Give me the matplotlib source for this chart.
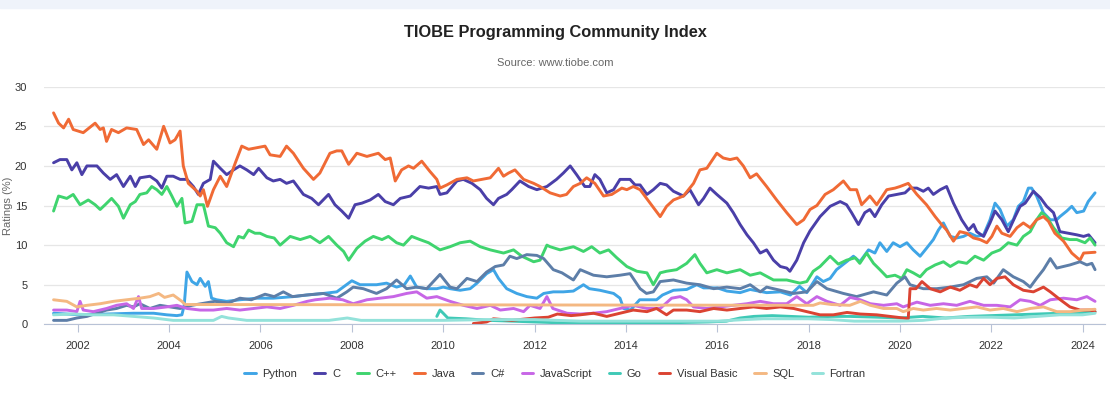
import matplotlib
matplotlib.use("Agg")
import matplotlib.pyplot as plt
from matplotlib.patches import Rectangle

plt.rcParams['font.family'] = ['Liberation Sans', 'DejaVu Sans']

# values (year, rating %)
python_x = [2001.47, 2001.76, 2002.05, 2002.63, 2003.22, 2003.66, 2003.95, 2004.17, 2004.28, 2004.33, 2004.39, 2004.50,
            2004.61, 2004.68, 2004.79, 2004.86, 2004.93, 2005.04, 2005.26, 2005.55, 2005.92, 2006.28, 2006.72, 2007.02,
            2007.38, 2007.67, 2008.00, 2008.18, 2008.54, 2008.76, 2008.98, 2009.15, 2009.28, 2009.42, 2009.64, 2009.86,
            2010.00, 2010.15, 2010.37, 2010.59, 2010.74, 2010.95, 2011.10, 2011.21, 2011.39, 2011.61, 2011.83, 2012.05,
            2012.20, 2012.41, 2012.63, 2012.85, 2013.07, 2013.20, 2013.43, 2013.73, 2013.87, 2013.95, 2014.10, 2014.30,
            2014.50, 2014.67, 2014.80, 2015.04, 2015.33, 2015.55, 2015.70, 2016.00, 2016.21, 2016.50, 2016.72, 2017.08,
            2017.38, 2017.60, 2017.80, 2017.96, 2018.18, 2018.32, 2018.47, 2018.61, 2018.83, 2018.98, 2019.12, 2019.31,
            2019.45, 2019.56, 2019.71, 2019.85, 2020.00, 2020.15, 2020.29, 2020.44, 2020.58, 2020.73, 2020.84, 2020.95,
            2021.10, 2021.24, 2021.39, 2021.53, 2021.68, 2021.83, 2021.97, 2022.08, 2022.19, 2022.34, 2022.48, 2022.59,
            2022.70, 2022.81, 2022.88, 2022.99, 2023.14, 2023.29, 2023.43, 2023.50, 2023.65, 2023.76, 2023.87, 2024.02,
            2024.12, 2024.27]
python_y = [1.4, 1.3, 1.2, 1.3, 1.4, 1.4, 1.2, 1.1, 1.2, 2.4, 6.6, 5.4,
            5.0, 5.8, 4.8, 5.4, 3.3, 3.1, 2.9, 3.1, 3.3, 3.3, 3.5, 3.7,
            3.9, 4.1, 5.5, 5.0, 5.0, 5.2, 4.7, 5.0, 6.1, 4.7, 4.5, 4.5,
            4.7, 4.5, 4.3, 4.5, 5.2, 6.4, 6.9, 5.8, 4.5, 3.9, 3.5, 3.3,
            3.9, 4.1, 4.1, 4.2, 5.0, 4.5, 4.3, 3.9, 3.3, 2.0, 1.8, 3.1,
            3.1, 3.1, 3.7, 4.3, 4.4, 5.0, 4.6, 4.6, 4.2, 4.0, 4.4, 4.0,
            4.1, 3.7, 4.8, 4.0, 6.0, 5.4, 5.8, 6.9, 7.9, 8.6, 7.9, 9.4,
            9.0, 10.3, 9.2, 10.3, 9.8, 10.3, 9.4, 8.6, 9.6, 10.7, 11.9, 12.8,
            11.1, 10.9, 11.1, 11.5, 11.1, 11.3, 13.2, 15.3, 14.5, 12.4, 13.2, 14.9,
            15.5, 17.2, 17.2, 16.2, 14.1, 13.2, 13.2, 13.6, 14.3, 14.9, 14.1, 14.3,
            15.5, 16.6]

c_x = [2001.47, 2001.61, 2001.76, 2001.87, 2001.98, 2002.09, 2002.20, 2002.42, 2002.56, 2002.71, 2002.85, 2003.00,
       2003.15, 2003.26, 2003.36, 2003.58, 2003.73, 2003.84, 2003.95, 2004.09, 2004.24, 2004.39, 2004.53, 2004.64,
       2004.75, 2004.90, 2004.97, 2005.12, 2005.26, 2005.41, 2005.55, 2005.70, 2005.85, 2005.96, 2006.14, 2006.28,
       2006.43, 2006.57, 2006.72, 2006.94, 2007.12, 2007.27, 2007.49, 2007.63, 2007.78, 2007.93, 2008.07, 2008.22,
       2008.40, 2008.58, 2008.73, 2008.91, 2009.06, 2009.28, 2009.49, 2009.68, 2009.86, 2009.93, 2010.08, 2010.30,
       2010.44, 2010.63, 2010.81, 2010.95, 2011.10, 2011.21, 2011.39, 2011.50, 2011.68, 2011.87, 2012.05, 2012.27,
       2012.48, 2012.63, 2012.78, 2012.92, 2013.10, 2013.21, 2013.32, 2013.43, 2013.58, 2013.73, 2013.87, 2014.09,
       2014.20, 2014.31, 2014.46, 2014.60, 2014.75, 2014.89, 2015.04, 2015.26, 2015.40, 2015.59, 2015.70, 2015.84,
       2015.99, 2016.21, 2016.35, 2016.50, 2016.65, 2016.79, 2016.94, 2017.08, 2017.23, 2017.38, 2017.52, 2017.59,
       2017.74, 2017.89, 2018.03, 2018.25, 2018.47, 2018.69, 2018.83, 2018.94, 2019.09, 2019.23, 2019.34, 2019.45,
       2019.60, 2019.75, 2019.93, 2020.11, 2020.22, 2020.37, 2020.51, 2020.62, 2020.73, 2020.88, 2021.02, 2021.17,
       2021.35, 2021.50, 2021.61, 2021.68, 2021.83, 2021.97, 2022.08, 2022.23, 2022.37, 2022.52, 2022.63, 2022.74,
       2022.92, 2023.07, 2023.21, 2023.36, 2023.50, 2023.69, 2023.87, 2024.02, 2024.13, 2024.27]
c_y = [20.4, 20.8, 20.8, 19.5, 20.4, 18.9, 20.0, 20.0, 19.1, 18.3, 18.9, 17.4,
       18.7, 17.4, 18.5, 18.7, 18.1, 17.2, 18.7, 18.7, 18.3, 18.3, 17.4, 16.4,
       17.8, 18.3, 20.6, 19.7, 18.9, 19.5, 20.0, 19.5, 18.9, 19.7, 18.5, 18.1,
       18.3, 17.8, 18.1, 16.4, 15.9, 15.1, 16.4, 15.1, 14.3, 13.4, 15.1, 15.3,
       15.7, 16.4, 15.5, 15.1, 15.9, 16.2, 17.4, 17.2, 17.4, 16.4, 16.6, 18.1,
       18.3, 17.8, 17.0, 15.9, 15.1, 15.9, 16.4, 17.0, 18.1, 17.4, 17.0, 17.4,
       18.3, 19.1, 20.0, 18.9, 17.4, 17.4, 18.9, 18.3, 16.6, 17.0, 18.3, 18.3,
       17.6, 17.6, 16.4, 17.0, 17.8, 17.6, 16.8, 16.2, 17.0, 15.1, 15.9, 17.2,
       16.4, 15.3, 14.1, 12.6, 11.3, 10.3, 9.0, 9.4, 8.1, 7.3, 7.1, 6.7,
       8.1, 10.3, 11.8, 13.6, 14.9, 15.5, 15.1, 14.1, 12.6, 14.1, 14.5, 13.6,
       15.1, 16.2, 16.4, 16.6, 17.2, 17.2, 16.8, 17.2, 16.4, 17.0, 17.4, 15.3,
       13.2, 11.9, 12.6, 11.7, 11.1, 12.8, 14.3, 13.2, 11.7, 13.6, 14.9, 15.3,
       16.8, 16.0, 14.9, 14.1, 11.7, 11.5, 11.3, 11.1, 11.3, 10.3]

cpp_x = [2001.47, 2001.58, 2001.76, 2001.90, 2002.05, 2002.23, 2002.38, 2002.49, 2002.60, 2002.74, 2002.89, 2003.00,
         2003.15, 2003.26, 2003.36, 2003.51, 2003.62, 2003.73, 2003.84, 2003.95, 2004.06, 2004.17, 2004.28, 2004.35,
         2004.50, 2004.61, 2004.75, 2004.86, 2005.01, 2005.12, 2005.26, 2005.41, 2005.52, 2005.63, 2005.74, 2005.88,
         2005.99, 2006.14, 2006.30, 2006.43, 2006.65, 2006.87, 2007.09, 2007.30, 2007.49, 2007.67, 2007.82, 2007.93,
         2008.11, 2008.29, 2008.47, 2008.66, 2008.80, 2008.98, 2009.13, 2009.31, 2009.49, 2009.68, 2009.93, 2010.15,
         2010.37, 2010.59, 2010.81, 2011.03, 2011.32, 2011.54, 2011.72, 2011.98, 2012.12, 2012.27, 2012.34, 2012.56,
         2012.85, 2013.07, 2013.25, 2013.43, 2013.62, 2013.80, 2014.02, 2014.24, 2014.46, 2014.60, 2014.75, 2014.89,
         2015.11, 2015.33, 2015.51, 2015.62, 2015.77, 2015.99, 2016.21, 2016.50, 2016.72, 2016.94, 2017.23, 2017.52,
         2017.81, 2017.96, 2018.10, 2018.25, 2018.47, 2018.65, 2018.83, 2019.02, 2019.12, 2019.27, 2019.42, 2019.56,
         2019.71, 2019.89, 2020.04, 2020.15, 2020.29, 2020.44, 2020.58, 2020.77, 2020.95, 2021.10, 2021.28, 2021.46,
         2021.64, 2021.83, 2022.01, 2022.19, 2022.37, 2022.56, 2022.70, 2022.85, 2022.99, 2023.10, 2023.21, 2023.36,
         2023.54, 2023.72, 2023.87, 2024.05, 2024.16, 2024.27]
cpp_y = [14.3, 16.2, 15.9, 16.4, 15.1, 15.7, 15.1, 14.5, 15.1, 15.9, 14.9, 13.4,
         15.1, 15.5, 16.4, 16.6, 17.4, 17.0, 16.4, 17.4, 16.2, 14.9, 15.9, 12.8,
         13.0, 15.1, 15.1, 12.4, 12.2, 11.5, 10.3, 9.8, 11.1, 10.9, 11.9, 11.5,
         11.5, 11.1, 10.9, 10.0, 11.1, 10.7, 11.1, 10.3, 11.1, 10.0, 9.2, 8.1,
         9.6, 10.5, 11.1, 10.7, 11.1, 10.3, 10.0, 11.1, 10.7, 10.3, 9.4, 9.8,
         10.3, 10.5, 9.8, 9.4, 9.0, 9.4, 8.6, 7.9, 8.1, 10.0, 9.8, 9.4,
         9.8, 9.2, 9.8, 9.0, 9.4, 8.4, 7.3, 6.7, 6.5, 5.0, 6.5, 6.7,
         6.9, 7.7, 8.8, 7.7, 6.5, 6.9, 6.5, 6.9, 6.2, 6.5, 5.6, 5.6,
         5.2, 5.4, 6.7, 7.3, 8.6, 7.6, 8.1, 8.4, 7.7, 9.0, 7.7, 6.9,
         6.0, 6.2, 5.8, 6.9, 6.5, 6.0, 6.9, 7.5, 7.9, 7.3, 7.9, 7.7,
         8.6, 8.1, 9.0, 9.4, 10.3, 10.0, 11.1, 11.7, 13.2, 14.1, 13.6, 12.2,
         10.9, 10.7, 10.7, 10.3, 10.9, 10.0]

java_x = [2001.47, 2001.58, 2001.69, 2001.80, 2001.90, 2002.12, 2002.38, 2002.49, 2002.56, 2002.63, 2002.74, 2002.89,
          2003.07, 2003.29, 2003.44, 2003.55, 2003.73, 2003.88, 2004.02, 2004.13, 2004.24, 2004.31, 2004.42, 2004.61,
          2004.68, 2004.75, 2004.84, 2004.97, 2005.12, 2005.26, 2005.45, 2005.59, 2005.74, 2005.92, 2006.10, 2006.21,
          2006.43, 2006.57, 2006.72, 2006.94, 2007.16, 2007.30, 2007.52, 2007.67, 2007.78, 2007.93, 2008.11, 2008.33,
          2008.58, 2008.73, 2008.84, 2008.95, 2009.09, 2009.24, 2009.35, 2009.53, 2009.71, 2009.86, 2009.93, 2010.08,
          2010.30, 2010.52, 2010.66, 2010.84, 2011.03, 2011.21, 2011.32, 2011.43, 2011.57, 2011.76, 2011.98, 2012.12,
          2012.34, 2012.56, 2012.70, 2012.85, 2013.00, 2013.14, 2013.32, 2013.51, 2013.69, 2013.91, 2014.02, 2014.16,
          2014.31, 2014.53, 2014.75, 2014.89, 2015.04, 2015.26, 2015.48, 2015.62, 2015.77, 2015.99, 2016.13, 2016.28,
          2016.43, 2016.57, 2016.72, 2016.86, 2017.08, 2017.30, 2017.52, 2017.74, 2017.89, 2018.03, 2018.18, 2018.36,
          2018.54, 2018.76, 2018.91, 2019.05, 2019.16, 2019.34, 2019.49, 2019.71, 2019.89, 2020.00, 2020.18, 2020.37,
          2020.58, 2020.77, 2020.91, 2021.02, 2021.17, 2021.31, 2021.46, 2021.61, 2021.75, 2021.90, 2022.01, 2022.12,
          2022.23, 2022.41, 2022.56, 2022.70, 2022.85, 2022.99, 2023.14, 2023.25, 2023.39, 2023.58, 2023.76, 2023.94,
          2024.02, 2024.27]
java_y = [26.7, 25.4, 24.8, 25.9, 24.6, 24.2, 25.4, 24.6, 24.8, 23.1, 24.6, 24.2,
          24.8, 24.6, 22.7, 23.3, 22.1, 25.0, 22.9, 23.3, 24.4, 20.0, 17.8, 16.8,
          16.2, 17.0, 14.9, 17.0, 18.7, 17.4, 20.4, 22.5, 22.1, 22.3, 22.5, 21.4,
          21.2, 22.5, 21.6, 19.7, 18.3, 19.1, 21.6, 21.9, 21.9, 20.2, 21.6, 21.2,
          21.6, 20.8, 21.0, 18.1, 19.5, 20.0, 19.7, 20.6, 19.3, 18.3, 17.2, 17.6,
          18.3, 18.5, 18.1, 18.3, 18.5, 19.7, 18.7, 19.1, 19.5, 18.3, 17.8, 17.4,
          16.6, 16.2, 16.4, 17.4, 17.8, 18.5, 17.8, 16.2, 16.4, 17.2, 17.0, 17.4,
          17.0, 15.3, 13.6, 14.9, 15.7, 16.2, 17.8, 19.5, 19.7, 21.6, 21.0, 20.8,
          21.0, 20.0, 18.5, 19.0, 17.4, 15.7, 14.1, 12.6, 13.2, 14.5, 15.0, 16.4,
          17.0, 18.1, 17.0, 17.0, 15.1, 16.2, 15.1, 17.0, 17.2, 17.4, 17.8, 16.4,
          15.1, 13.6, 12.6, 11.9, 10.5, 11.7, 11.5, 10.9, 10.7, 10.3, 11.1, 12.4,
          11.5, 11.1, 12.2, 12.8, 12.2, 13.2, 13.6, 13.0, 11.5, 10.5, 9.0, 8.1,
          9.0, 9.1]

csharp_x = [2001.47, 2001.76, 2001.98, 2002.20, 2002.42, 2002.63, 2002.85, 2003.07, 2003.22, 2003.36, 2003.58, 2003.80,
            2004.02, 2004.24, 2004.50, 2005.00, 2005.30, 2005.55, 2005.80, 2006.10, 2006.30, 2006.50, 2006.70, 2007.00,
            2007.38, 2007.67, 2007.89, 2008.03, 2008.25, 2008.54, 2008.76, 2008.98, 2009.20, 2009.42, 2009.64, 2009.93,
            2010.15, 2010.30, 2010.52, 2010.74, 2010.95, 2011.14, 2011.32, 2011.46, 2011.61, 2011.83, 2012.05, 2012.20,
            2012.41, 2012.60, 2012.85, 2013.00, 2013.29, 2013.58, 2013.87, 2014.09, 2014.31, 2014.45, 2014.60, 2014.75,
            2015.04, 2015.33, 2015.62, 2015.92, 2016.21, 2016.50, 2016.72, 2016.94, 2017.08, 2017.38, 2017.67, 2017.96,
            2018.18, 2018.40, 2018.76, 2019.05, 2019.42, 2019.71, 2019.93, 2020.11, 2020.22, 2020.51, 2020.80, 2021.10,
            2021.39, 2021.68, 2021.90, 2022.05, 2022.26, 2022.48, 2022.70, 2022.85, 2022.99, 2023.14, 2023.29, 2023.43,
            2023.72, 2023.94, 2024.09, 2024.20, 2024.27]
csharp_y = [0.5, 0.5, 0.8, 1.0, 1.4, 1.8, 2.0, 2.4, 2.2, 2.6, 2.0, 2.4,
            2.2, 2.0, 2.4, 2.9, 2.7, 3.3, 3.1, 3.8, 3.5, 4.1, 3.5, 3.7,
            3.9, 3.3, 4.1, 4.7, 4.5, 3.9, 4.5, 5.6, 4.5, 4.7, 4.5, 6.3,
            4.7, 4.5, 5.8, 5.4, 6.6, 7.3, 7.5, 8.6, 8.3, 8.8, 8.7, 8.3,
            6.9, 6.5, 5.6, 6.9, 6.2, 6.0, 6.2, 6.4, 4.5, 3.9, 4.1, 5.4,
            5.6, 5.2, 5.0, 4.5, 4.7, 4.5, 5.0, 4.1, 4.7, 4.3, 3.9, 4.1,
            5.4, 4.5, 3.9, 3.5, 4.1, 3.7, 5.2, 6.0, 5.0, 4.5, 4.5, 4.7,
            5.0, 5.8, 6.0, 5.2, 6.9, 6.0, 5.4, 4.7, 5.8, 6.9, 8.3, 7.1,
            7.5, 7.9, 7.5, 7.7, 6.9]

js_x = [2001.47, 2001.76, 2001.98, 2002.05, 2002.12, 2002.34, 2002.63, 2002.85, 2003.07, 2003.22, 2003.33, 2003.40,
        2003.66, 2003.95, 2004.17, 2004.39, 2004.68, 2004.97, 2005.26, 2005.55, 2005.85, 2006.14, 2006.43, 2006.72,
        2007.02, 2007.20, 2007.52, 2007.80, 2008.03, 2008.33, 2008.62, 2008.91, 2009.20, 2009.42, 2009.64, 2009.86,
        2010.15, 2010.44, 2010.74, 2011.03, 2011.25, 2011.54, 2011.76, 2011.90, 2012.12, 2012.27, 2012.40, 2012.71,
        2013.00, 2013.29, 2013.58, 2013.87, 2014.16, 2014.46, 2014.75, 2015.00, 2015.19, 2015.33, 2015.48, 2015.77,
        2016.06, 2016.35, 2016.65, 2016.94, 2017.23, 2017.52, 2017.74, 2017.96, 2018.18, 2018.40, 2018.69, 2018.91,
        2019.13, 2019.35, 2019.64, 2019.93, 2020.07, 2020.37, 2020.66, 2020.95, 2021.24, 2021.53, 2021.83, 2022.12,
        2022.41, 2022.63, 2022.85, 2023.07, 2023.29, 2023.58, 2023.87, 2024.09, 2024.27]
js_y = [1.8, 1.8, 1.6, 2.9, 1.8, 1.6, 2.0, 2.4, 2.6, 2.0, 3.5, 2.0,
        2.0, 2.2, 2.4, 2.0, 1.8, 1.8, 2.0, 1.8, 2.0, 2.2, 2.0, 2.4,
        2.9, 3.1, 3.3, 3.1, 2.6, 3.1, 3.3, 3.5, 3.9, 4.1, 3.3, 3.5,
        2.9, 2.4, 2.0, 2.4, 1.8, 2.0, 1.6, 2.4, 2.0, 3.5, 2.0, 1.4,
        1.3, 1.4, 1.6, 2.0, 2.4, 2.0, 2.0, 3.3, 3.5, 3.1, 2.2, 2.0,
        2.2, 2.4, 2.6, 2.9, 2.6, 2.6, 3.5, 2.6, 3.5, 2.9, 2.4, 3.4,
        3.1, 2.6, 2.4, 2.6, 2.2, 2.8, 2.4, 2.6, 2.4, 2.9, 2.4, 2.4,
        2.2, 3.1, 2.9, 2.4, 3.1, 3.3, 3.1, 3.5, 2.9]

go_x = [2009.86, 2009.93, 2010.00, 2010.10, 2010.50, 2011.00, 2011.50, 2012.00, 2012.50, 2013.00, 2014.00, 2015.00,
        2015.80, 2016.20, 2016.50, 2016.80, 2017.20, 2017.60, 2018.00, 2018.50, 2018.90, 2019.50, 2020.00, 2020.50,
        2021.00, 2021.50, 2022.00, 2022.50, 2023.00, 2023.50, 2024.00, 2024.27]
go_y = [1.0, 1.8, 1.4, 0.8, 0.7, 0.5, 0.4, 0.3, 0.2, 0.2, 0.2, 0.2,
        0.3, 0.4, 0.8, 1.0, 1.1, 1.0, 0.9, 1.0, 1.0, 0.9, 0.8, 1.0,
        0.8, 1.0, 1.1, 1.2, 1.3, 1.4, 1.5, 1.6]

vb_x = [2010.66, 2010.95, 2011.10, 2011.50, 2012.00, 2012.30, 2012.50, 2012.80, 2013.00, 2013.29, 2013.58, 2013.87,
        2014.16, 2014.46, 2014.67, 2014.89, 2015.04, 2015.33, 2015.62, 2015.92, 2016.21, 2016.50, 2016.79, 2017.08,
        2017.38, 2017.67, 2017.96, 2018.25, 2018.54, 2018.84, 2019.13, 2019.49, 2019.78, 2020.07, 2020.18, 2020.22,
        2020.35, 2020.48, 2020.66, 2020.88, 2021.10, 2021.31, 2021.53, 2021.68, 2021.83, 2021.97, 2022.12, 2022.30,
        2022.48, 2022.70, 2022.92, 2023.14, 2023.29, 2023.51, 2023.72, 2023.94, 2024.16, 2024.27]
vb_y = [0.1, 0.3, 0.7, 0.5, 0.8, 0.9, 1.3, 1.1, 1.2, 1.4, 1.0, 1.4,
        1.8, 1.6, 2.0, 1.2, 1.8, 1.8, 1.6, 2.0, 1.8, 2.0, 2.2, 2.0,
        2.2, 2.0, 1.6, 1.2, 1.2, 1.5, 1.3, 1.2, 1.0, 0.8, 0.7, 4.5,
        4.5, 5.4, 4.5, 4.1, 4.7, 4.3, 5.0, 4.7, 5.8, 5.0, 5.8, 6.0,
        5.0, 4.3, 4.1, 4.7, 4.1, 3.1, 2.2, 1.8, 1.8, 1.6]

sql_x = [2001.47, 2001.76, 2001.98, 2002.20, 2002.49, 2002.78, 2003.07, 2003.36, 2003.58, 2003.77, 2003.90, 2004.09,
         2004.28, 2004.35, 2018.10, 2018.25, 2018.50, 2018.90, 2019.13, 2019.35, 2019.64, 2019.93, 2020.07, 2020.29,
         2020.51, 2020.80, 2021.10, 2021.39, 2021.68, 2021.97, 2022.26, 2022.56, 2022.85, 2023.14, 2023.43, 2023.72,
         2024.02, 2024.27]
sql_y = [3.1, 2.9, 2.2, 2.4, 2.6, 2.9, 3.1, 3.3, 3.5, 3.9, 3.4, 3.7,
         2.9, 2.5, 2.4, 2.7, 2.5, 2.4, 2.9, 2.4, 2.0, 2.0, 1.6, 2.0,
         1.8, 2.0, 1.8, 2.0, 2.2, 1.8, 2.0, 1.6, 2.0, 2.2, 1.6, 1.6,
         1.8, 1.9]

fortran_x = [2001.47, 2001.90, 2002.34, 2002.78, 2003.22, 2003.66, 2004.09, 2004.53, 2004.97, 2005.15, 2005.30, 2005.70,
             2006.30, 2007.00, 2007.50, 2007.90, 2008.20, 2009.00, 2010.00, 2011.00, 2012.00, 2013.00, 2014.00, 2015.00,
             2016.00, 2016.60, 2017.00, 2018.00, 2018.50, 2019.00, 2019.50, 2020.00, 2020.50, 2021.00, 2021.50, 2022.00,
             2022.50, 2023.00, 2023.50, 2024.00, 2024.27]
fortran_y = [1.2, 1.3, 1.2, 1.2, 1.0, 0.8, 0.5, 0.5, 0.5, 1.0, 0.8, 0.5,
             0.5, 0.5, 0.5, 0.8, 0.5, 0.5, 0.5, 0.6, 0.6, 0.4, 0.4, 0.4,
             0.4, 0.6, 0.7, 0.7, 0.6, 0.4, 0.4, 0.4, 0.5, 0.8, 0.9, 0.9,
             0.8, 1.0, 1.2, 1.2, 1.4]

names = ['Python', 'C', 'C++', 'Java', 'C#', 'JavaScript', 'Go', 'Visual Basic', 'SQL', 'Fortran']
colors = ['#3fa5e6', '#4a3fa8', '#3fd46e', '#f06a35', '#5d7ea8', '#c766e6', '#3fc9b6', '#db4332', '#f4b882', '#93e2da']
series = [(python_x, python_y), (c_x, c_y), (cpp_x, cpp_y), (java_x, java_y), (csharp_x, csharp_y),
          (js_x, js_y), (go_x, go_y), (vb_x, vb_y), (sql_x, sql_y), (fortran_x, fortran_y)]
year_ticks = list(range(2002, 2025, 2))

fig = plt.figure(figsize=(11.1, 3.96), dpi=100)
fig.patches.append(Rectangle((0, 1 - 8 / 396), 1, 8 / 396, transform=fig.transFigure,
                             color='#eff3fa', zorder=0))
ax = fig.add_axes([0.0396, 0.181, 0.956, 0.600])

for (xs, ys), name, col in zip(series, names, colors):
    ax.plot(xs, ys, color=col, lw=2.1, label=name,
            solid_joinstyle='round', solid_capstyle='round')

ax.set_xlim(2001.26, 2024.49)
ax.set_ylim(0, 30)
ax.set_yticks(range(0, 31, 5))
ax.set_xticks(year_ticks)
ax.grid(axis='y', color='#e6e6e6', lw=0.9)
ax.set_axisbelow(True)
for s in ['top', 'right', 'left']:
    ax.spines[s].set_visible(False)
ax.spines['bottom'].set_color('#b8c2d6')
ax.tick_params(axis='y', length=0, labelsize=8, labelcolor='#333333', pad=12)
ax.tick_params(axis='x', length=6, color='#b8c2d6', labelsize=8, labelcolor='#333333', pad=6)
ax.set_ylabel('Ratings (%)', fontsize=8, color='#666666')
ax.yaxis.set_label_coords(-0.029, 0.5)

fig.text(0.5, 0.919, 'TIOBE Programming Community Index', ha='center', va='center',
         fontsize=11.8, fontweight='bold', color='#222222')
fig.text(0.5, 0.841, 'Source: www.tiobe.com', ha='center', va='center', fontsize=8, color='#666666')

handles, labels = ax.get_legend_handles_labels()
fig.legend(handles, labels, loc='center', bbox_to_anchor=(0.5, 0.056), ncol=10, frameon=False,
           fontsize=8, handlelength=1.0, columnspacing=1.55, handletextpad=0.6, labelcolor='#333333')

fig.savefig('out.png', dpi=100)
